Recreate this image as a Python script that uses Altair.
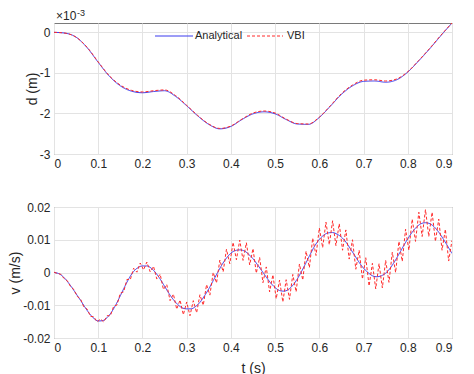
import altair as alt
import pandas as pd

# ---------------- data ----------------
series = ["Analytical", "VBI"]
colors = ["#3a3aee", "#ff2a2a"]

# displacement, in units of 1e-3 m, sampled every 0.025 s
t_d = [0.000, 0.025, 0.050, 0.075, 0.100, 0.125, 0.150, 0.175, 0.200, 0.225,
       0.250, 0.275, 0.300, 0.325, 0.350, 0.375, 0.400, 0.425, 0.450, 0.475,
       0.500, 0.525, 0.550, 0.575, 0.600, 0.625, 0.650, 0.675, 0.700, 0.725,
       0.750, 0.775, 0.800, 0.825, 0.850, 0.875, 0.900]
d_analytical = [0.00, -0.02, -0.12, -0.38, -0.74, -1.08, -1.32, -1.45, -1.49, -1.46,
                -1.44, -1.58, -1.81, -2.06, -2.27, -2.38, -2.32, -2.15, -2.01, -1.96,
                -2.01, -2.15, -2.26, -2.27, -2.10, -1.82, -1.53, -1.32, -1.21, -1.20,
                -1.23, -1.17, -0.98, -0.70, -0.40, -0.08, 0.23]
d_vbi = [0.00, -0.02, -0.12, -0.37, -0.73, -1.07, -1.30, -1.43, -1.47, -1.44,
         -1.42, -1.56, -1.80, -2.05, -2.26, -2.37, -2.31, -2.14, -1.99, -1.94,
         -1.99, -2.14, -2.25, -2.26, -2.09, -1.81, -1.51, -1.30, -1.18, -1.17,
         -1.20, -1.15, -0.97, -0.69, -0.39, -0.07, 0.23]

# analytical velocity, m/s, sampled every 0.01 s
t_v = [round(i * 0.01, 2) for i in range(91)]
v_analytical = [
    0.0000, -0.0003, -0.0012, -0.0027, -0.0045, -0.0065, -0.0085, -0.0106, -0.0125, -0.0140,
    -0.0148, -0.0147, -0.0138, -0.0121, -0.0098, -0.0071, -0.0043, -0.0017, 0.0003, 0.0015,
    0.0020, 0.0020, 0.0013, -0.0001, -0.0020, -0.0042, -0.0064, -0.0083, -0.0098, -0.0108,
    -0.0111, -0.0111, -0.0104, -0.0091, -0.0072, -0.0050, -0.0025, 0.0000, 0.0024, 0.0044,
    0.0059, 0.0067, 0.0069, 0.0066, 0.0056, 0.0042, 0.0024, 0.0005, -0.0014, -0.0032,
    -0.0046, -0.0055, -0.0057, -0.0052, -0.0039, -0.0020, 0.0004, 0.0030, 0.0057, 0.0082,
    0.0101, 0.0114, 0.0121, 0.0122, 0.0117, 0.0108, 0.0093, 0.0073, 0.0052, 0.0031,
    0.0013, 0.0000, -0.0010, -0.0013, -0.0010, -0.0002, 0.0013, 0.0033, 0.0056, 0.0080,
    0.0103, 0.0123, 0.0139, 0.0149, 0.0152, 0.0149, 0.0139, 0.0123, 0.0103, 0.0081,
    0.0058]

# VBI velocity (fast oscillation around the analytical curve), m/s, every 0.0075 s
t_vbi = [round(k * 0.0075, 4) for k in range(121)]
v_vbi = [
    0.0001, -0.0003, -0.0005, -0.0018, -0.0025, -0.0043, -0.0052, -0.0073, -0.0081, -0.0105,
    -0.0112, -0.0134, -0.0135, -0.0151, -0.0142, -0.0151, -0.0132, -0.0132, -0.0103, -0.0099,
    -0.0063, -0.0059, -0.0021, -0.0022, 0.0013, 0.0001, 0.0029, 0.0008, 0.0032, 0.0002,
    0.0019, -0.0020, -0.0005, -0.0052, -0.0037, -0.0086, -0.0066, -0.0112, -0.0084, -0.0129,
    -0.0090, -0.0132, -0.0086, -0.0123, -0.0068, -0.0100, -0.0037, -0.0069, 0.0000, -0.0032,
    0.0038, 0.0002, 0.0071, 0.0027, 0.0092, 0.0039, 0.0099, 0.0037, 0.0091, 0.0023,
    0.0073, -0.0002, 0.0046, -0.0031, 0.0017, -0.0059, -0.0007, -0.0080, -0.0023, -0.0090,
    -0.0022, -0.0082, -0.0006, -0.0059, 0.0026, -0.0023, 0.0065, 0.0015, 0.0105, 0.0052,
    0.0136, 0.0076, 0.0154, 0.0085, 0.0158, 0.0082, 0.0149, 0.0068, 0.0130, 0.0041,
    0.0100, 0.0010, 0.0068, -0.0020, 0.0045, -0.0041, 0.0028, -0.0050, 0.0027, -0.0047,
    0.0037, -0.0030, 0.0062, 0.0000, 0.0095, 0.0034, 0.0132, 0.0068, 0.0163, 0.0095,
    0.0184, 0.0110, 0.0192, 0.0110, 0.0184, 0.0095, 0.0163, 0.0068, 0.0132, 0.0035,
    0.0098]

x_ticks = [0, 0.1, 0.2, 0.3, 0.4, 0.5, 0.6, 0.7, 0.8, 0.9]
d_ticks = [-3, -2, -1, 0]
v_ticks = [-0.02, -0.01, 0, 0.01, 0.02]

# ---------------- tables ----------------
d_ana = pd.DataFrame({"t": t_d, "y": d_analytical, "series": series[0]})
d_vb = pd.DataFrame({"t": t_d, "y": d_vbi, "series": series[1]})
v_ana = pd.DataFrame({"t": t_v, "y": v_analytical, "series": series[0]})
v_vb = pd.DataFrame({"t": t_vbi, "y": v_vbi, "series": series[1]})

FONT = "Liberation Sans"
W, H = 398, 131

color = alt.Color("series:N", scale=alt.Scale(domain=series, range=colors), legend=None)
dash = alt.StrokeDash("series:N", scale=alt.Scale(domain=series, range=[[1, 0], [3, 2]]), legend=None)


def xenc(title):
    return alt.X("t:Q", scale=alt.Scale(domain=[0, 0.9], nice=False, zero=False),
                 axis=alt.Axis(values=x_ticks, labelExpr="toString(datum.value)",
                               title=title, grid=True, titlePadding=8))


def yenc(domain, ticks, title):
    return alt.Y("y:Q", scale=alt.Scale(domain=domain, nice=False, zero=False),
                 axis=alt.Axis(values=ticks, labelExpr="toString(datum.value)",
                               title=title, grid=True, titlePadding=0))


# ---------------- top panel ----------------
top_a = alt.Chart(d_ana).mark_line(strokeWidth=1, interpolate="monotone", clip=True).encode(
    x=xenc(None), y=yenc([-3, 0.23], d_ticks, "d (m)"), color=color, strokeDash=dash)
top_b = alt.Chart(d_vb).mark_line(strokeWidth=1, interpolate="monotone", clip=True).encode(
    x=xenc(None), y=yenc([-3, 0.23], d_ticks, "d (m)"), color=color, strokeDash=dash)

one = pd.DataFrame({"k": [0]})
leg_a_line = alt.Chart(one).mark_rule(color=colors[0], strokeWidth=1).encode(
    x=alt.value(101), x2=alt.value(139), y=alt.value(13))
leg_a_text = alt.Chart(one).mark_text(align="left", baseline="middle", font=FONT,
                                      fontSize=11, color="#262626").encode(
    x=alt.value(141), y=alt.value(13), text=alt.value("Analytical"))
leg_b_line = alt.Chart(one).mark_rule(color=colors[1], strokeWidth=1, strokeDash=[3, 2]).encode(
    x=alt.value(193), x2=alt.value(229), y=alt.value(13))
leg_b_text = alt.Chart(one).mark_text(align="left", baseline="middle", font=FONT,
                                      fontSize=11, color="#262626").encode(
    x=alt.value(233), y=alt.value(13), text=alt.value("VBI"))
exp_a = alt.Chart(one).mark_text(align="left", baseline="alphabetic", font=FONT,
                                 fontSize=12, color="#262626").encode(
    x=alt.value(2), y=alt.value(-3), text=alt.value("×10"))
exp_b = alt.Chart(one).mark_text(align="left", baseline="alphabetic", font=FONT,
                                 fontSize=9, color="#262626").encode(
    x=alt.value(23), y=alt.value(-7), text=alt.value("-3"))

top = alt.layer(top_a, top_b, leg_a_line, leg_a_text, leg_b_line, leg_b_text, exp_a, exp_b
                ).properties(width=W, height=H)

# ---------------- bottom panel ----------------
bot_a = alt.Chart(v_ana).mark_line(strokeWidth=1, interpolate="monotone", clip=True).encode(
    x=xenc("t (s)"), y=yenc([-0.02, 0.02], v_ticks, "v (m/s)"), color=color, strokeDash=dash)
bot_b = alt.Chart(v_vb).mark_line(strokeWidth=1, clip=True).encode(
    x=xenc("t (s)"), y=yenc([-0.02, 0.02], v_ticks, "v (m/s)"), color=color, strokeDash=dash)

bottom = alt.layer(bot_a, bot_b).properties(width=W, height=H)

chart = alt.vconcat(top, bottom, spacing=30).properties(
    padding={"left": 0, "top": 0, "right": 10, "bottom": 0}
).configure_view(
    stroke="#7a7a7a", strokeWidth=1
).configure_axis(
    labelFont=FONT, labelFontSize=12, labelColor="#262626",
    titleFont=FONT, titleFontSize=14, titleFontWeight="normal", titleColor="#262626",
    gridColor="#e3e3e3", gridWidth=1, domain=False, ticks=False, labelPadding=4
)

chart.save("out.html", embed_options={"renderer": "svg", "actions": False})
